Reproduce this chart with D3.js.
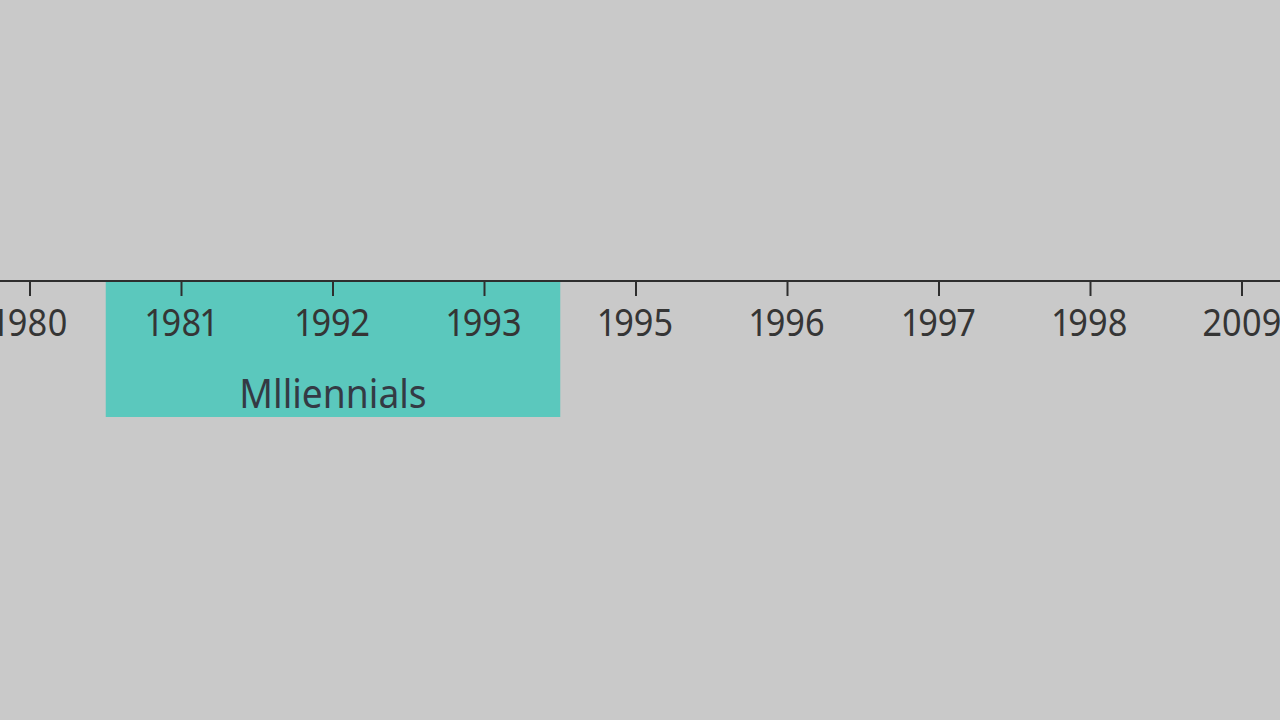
<!DOCTYPE html>
<html>
<head>
<meta charset="utf-8">
<script src="https://cdn.jsdelivr.net/npm/d3@7"></script>
<style>
  html, body { margin: 0; padding: 0; background: #c9c9c9; }
  svg { display: block; }
</style>
</head>
<body>
<script>
// tick labels along the timeline, left to right
var years = ["1980", "1981", "1992", "1993", "1995", "1996", "1997", "1998", "2009"];
// generation band: first and last year it covers
var genNames = ["Mlliennials"];
var genStart = ["1981"];
var genEnd = ["1993"];

var width = 1280, height = 720;
var axisY = 281;

var svg = d3.select("body").append("svg")
    .attr("width", width)
    .attr("height", height);

svg.append("rect")
    .attr("width", width)
    .attr("height", height)
    .attr("fill", "#c9c9c9");

// band scale so the tick sits in the middle of each year slot
var x = d3.scaleBand()
    .domain(years)
    .range([-45.75, 1317.75])
    .padding(0);

// generation block under the axis
svg.selectAll("rect.gen")
    .data(genNames)
    .enter()
    .append("rect")
    .attr("class", "gen")
    .attr("x", function(d, i) { return x(genStart[i]); })
    .attr("y", axisY)
    .attr("width", function(d, i) { return x(genEnd[i]) + x.bandwidth() - x(genStart[i]); })
    .attr("height", 136)
    .attr("fill", "#5bc8bd");

// label, squeezed a little to match the narrow font of the original
svg.selectAll("text.gen")
    .data(genNames)
    .enter()
    .append("text")
    .attr("class", "gen")
    .attr("transform", function(d, i) {
        var cx = (x(genStart[i]) + x(genEnd[i]) + x.bandwidth()) / 2;
        return "translate(" + cx + ",408) scale(0.93,1)";
    })
    .attr("text-anchor", "middle")
    .attr("font-family", "Noto Sans")
    .attr("font-size", "40px")
    .attr("fill", "#343a44")
    .text(function(d) { return d; });

// the axis itself
var axis = d3.axisBottom(x)
    .tickSize(15)
    .tickPadding(12);

var g = svg.append("g")
    .attr("transform", "translate(0," + axisY + ")")
    .call(axis);

g.select(".domain")
    .attr("d", "M-10,0H" + (width + 10))
    .attr("stroke", "#2e2e2e")
    .attr("stroke-width", 2);

g.selectAll(".tick line")
    .attr("stroke", "#2e2e2e")
    .attr("stroke-width", 2);

g.selectAll(".tick text")
    .attr("font-family", "Noto Sans")
    .attr("font-size", "39px")
    .attr("fill", "#353535")
    .style("font-variant-numeric", "proportional-nums")
    .attr("transform", "scale(0.88,1)");
</script>
</body>
</html>
